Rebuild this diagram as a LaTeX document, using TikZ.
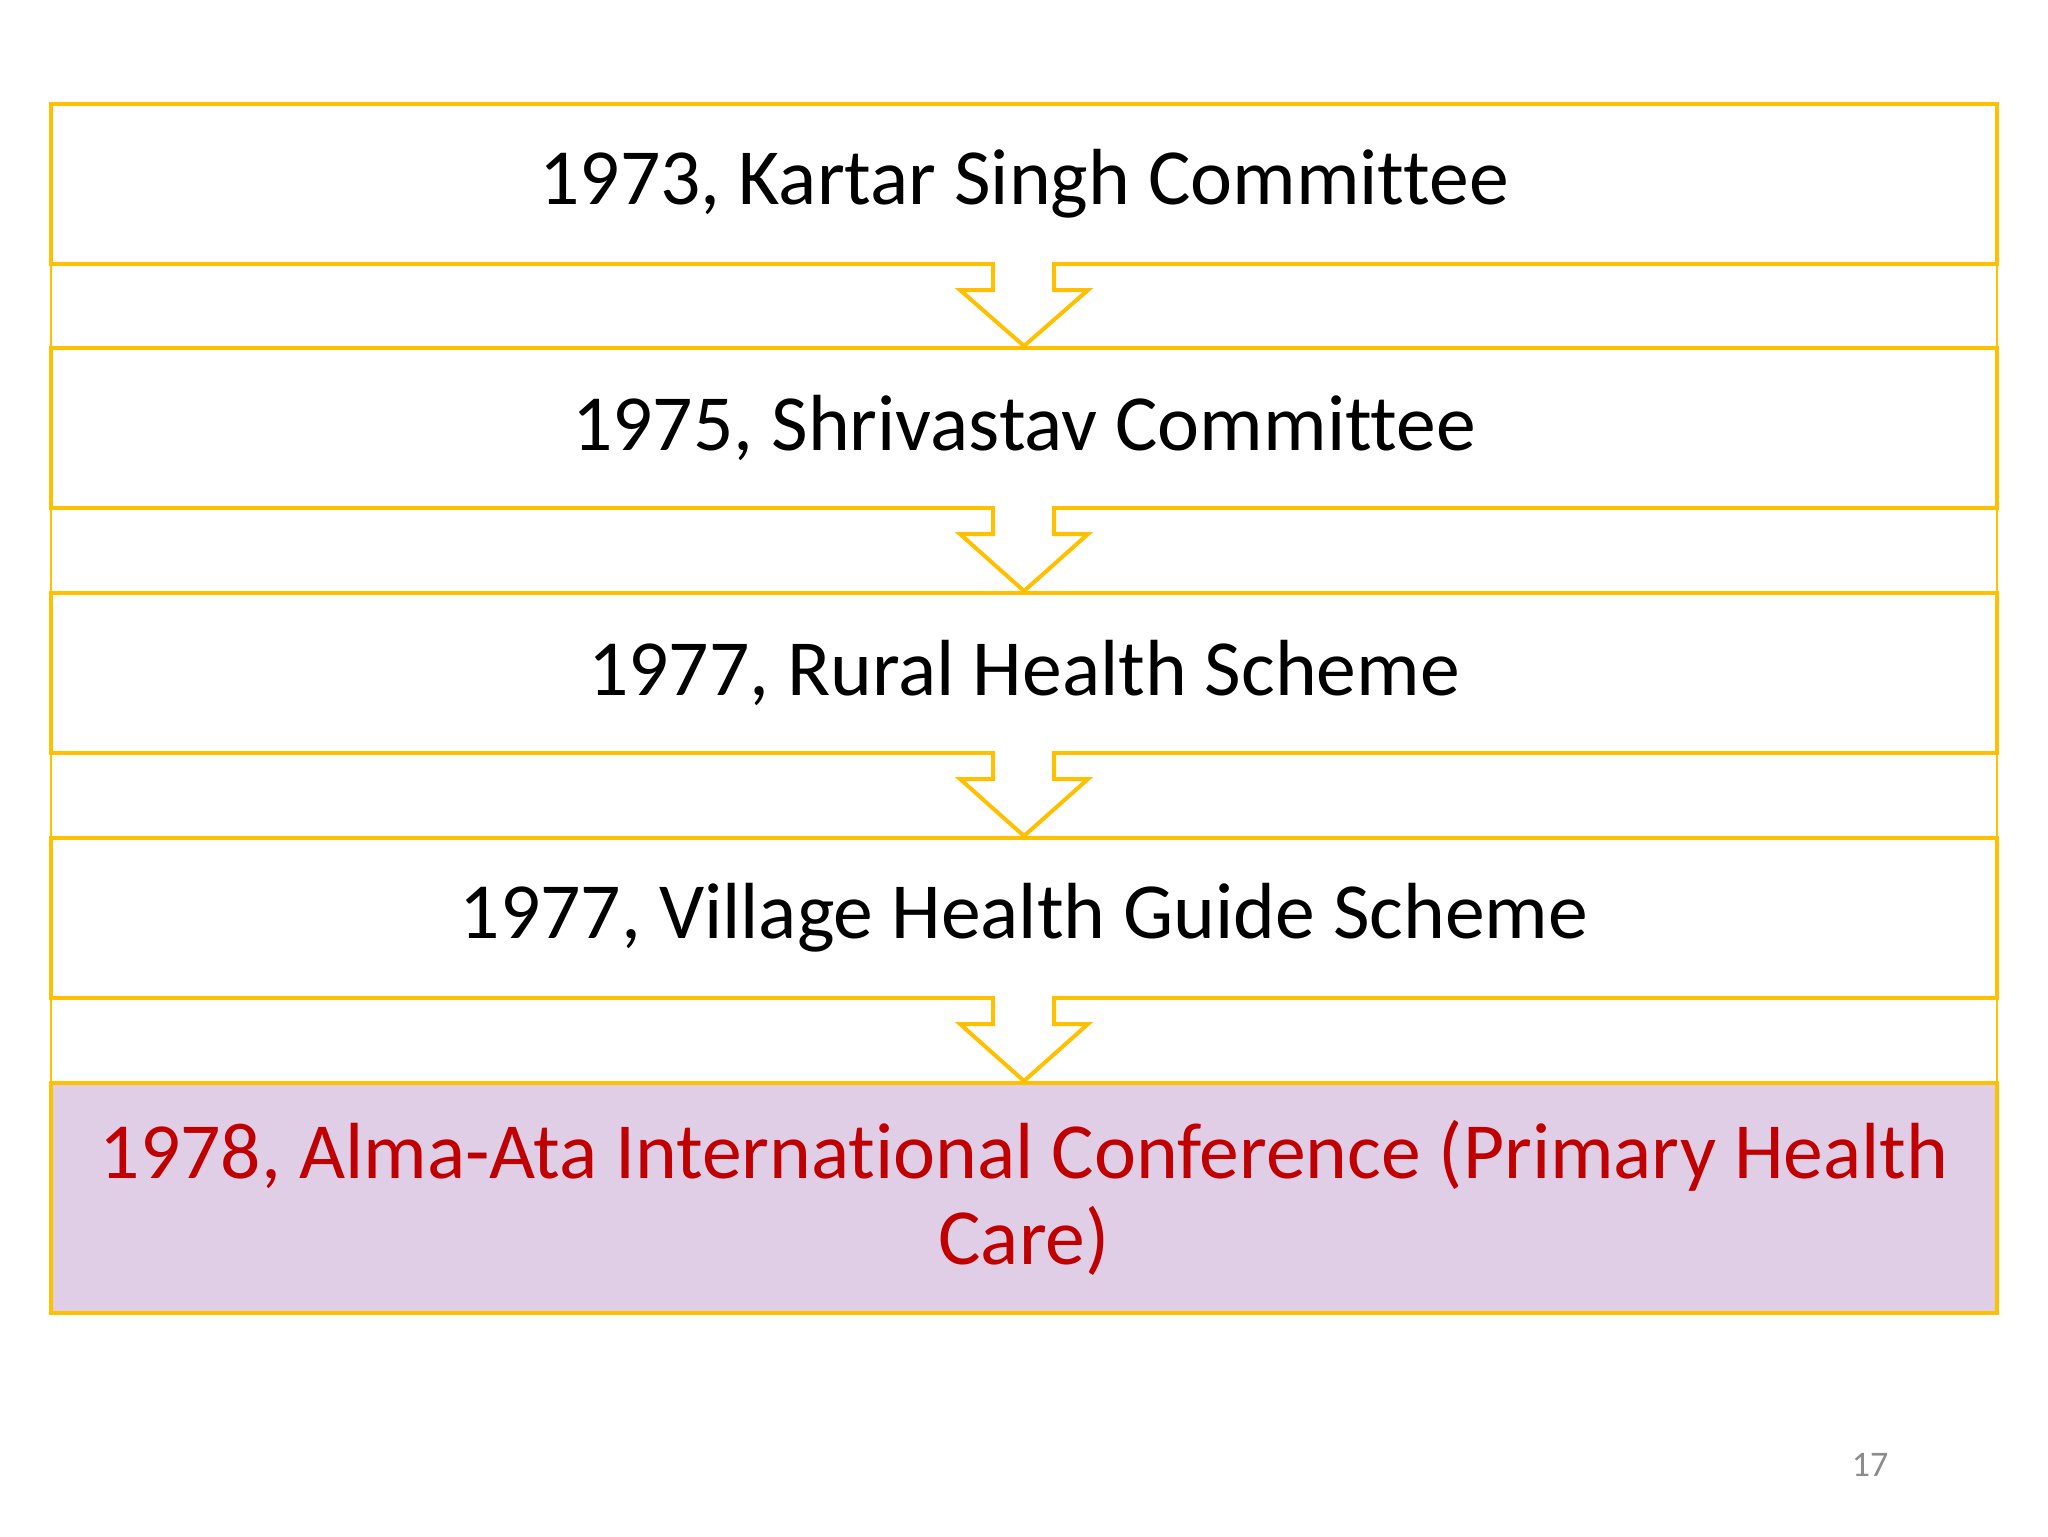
\documentclass[tikz,border=0pt]{standalone}
\usepackage{fontspec}
\setmainfont{Carlito}[Ligatures={NoCommon}]
\usetikzlibrary{calc}
\definecolor{gold}{HTML}{FFC000}
\definecolor{lilac}{HTML}{E0CDE6}
\definecolor{darkred}{HTML}{C00000}
\definecolor{pgnum}{HTML}{8C8C8C}
\begin{document}
\begin{tikzpicture}[x=0.5pt,y=-0.5pt,
  box/.style={draw=gold, line width=2pt, fill=white, minimum width=973pt, minimum height=80pt,
    inner sep=0pt, font=\fontsize{39.8}{43}\selectfont, text=black, align=center},
  flow/.style={draw=gold, line width=2pt, line join=miter, fill=white}]
\useasboundingbox (0,0) rectangle (2048,1536);
\draw[gold, line width=0.8pt] (51,103) -- (51,1313) (1997,103) -- (1997,1313);
\node[box] (b1) at (1024,184) {1973, Kartar Singh Committee};
\node[box] (b2) at (1024,428) {1975, Shrivastav Committee};
\node[box] (b3) at (1024,673) {1977, Rural Health Scheme};
\node[box] (b4) at (1024,918) {1977, Village Health Guide Scheme};
\node[box, fill=lilac, text=darkred, minimum height=115pt] (b5) at (1024,1198)
  {1978, Alma-Ata International Conference (Primary Health\\Care)};
\foreach \a/\b in {b1/b2,b2/b3,b3/b4,b4/b5}{
  \fill[white] ($(\a.south)+(-29,-4)$) rectangle ($(\a.south)+(28,4)$);
  \draw[flow] ($(\a.south)+(-31,0)$) -- ($(\a.south)+(-31,24)$) -- ($(\a.south)+(-64,24)$)
    -- (\b.north) -- ($(\a.south)+(64,24)$) -- ($(\a.south)+(30,24)$) -- ($(\a.south)+(30,0)$);
}
\node[text=pgnum, font=\fontsize{18}{20}\selectfont] (pg) at (1870,1465) {17};
\end{tikzpicture}
\end{document}
